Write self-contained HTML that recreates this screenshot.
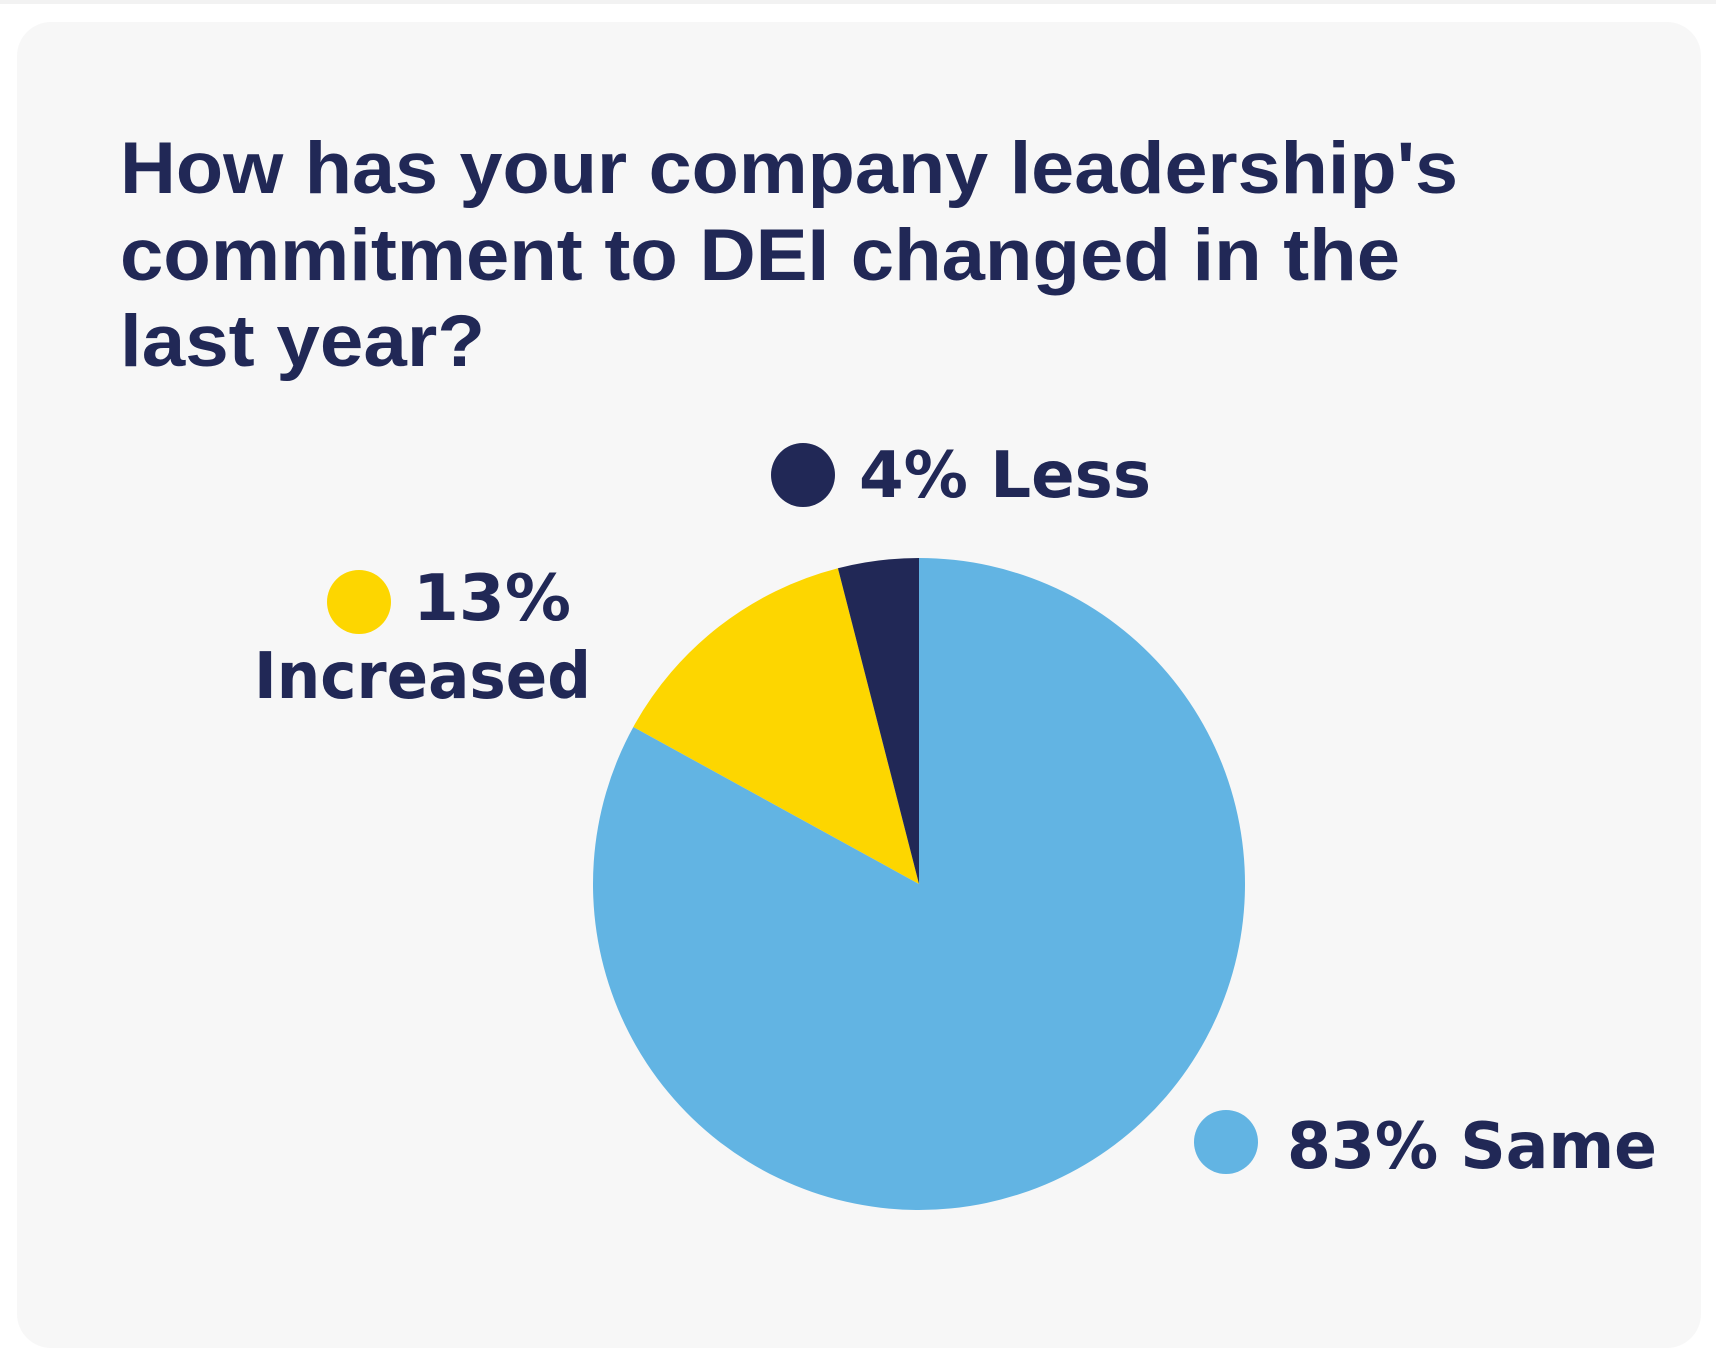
<!DOCTYPE html>
<html><head><meta charset="utf-8"><style>
html,body{margin:0;padding:0;background:#fff;}
svg{display:block;}
</style></head><body>
<svg width="1716" height="1366" viewBox="0 0 1716 1366">
<rect x="0" y="0" width="1716" height="4" fill="#f2f2f2"/>
<rect x="17" y="22" width="1684" height="1326" rx="34" fill="#f7f7f7"/>
<g font-family="'Liberation Sans', sans-serif" font-weight="bold" font-size="73" fill="#212856">
<text x="120" y="193" textLength="1338" lengthAdjust="spacingAndGlyphs">How has your company leadership's</text>
<text x="120" y="280" textLength="1280" lengthAdjust="spacingAndGlyphs">commitment to DEI changed in the</text>
<text x="120" y="366" textLength="365" lengthAdjust="spacingAndGlyphs">last year?</text>
</g>
<g id="pie"></g>
<g font-family="'DejaVu Sans', sans-serif" font-weight="bold" font-size="64" fill="#212856">
<circle cx="803" cy="475" r="32" fill="#212856"/>
<text x="859" y="497" textLength="292" lengthAdjust="spacingAndGlyphs">4% Less</text>
<circle cx="359" cy="602" r="32" fill="#fdd600"/>
<text x="413" y="620" textLength="158" lengthAdjust="spacingAndGlyphs">13%</text>
<text x="254" y="698" textLength="337" lengthAdjust="spacingAndGlyphs">Increased</text>
<circle cx="1226" cy="1142" r="32" fill="#62b4e3"/>
<text x="1287" y="1168" textLength="370" lengthAdjust="spacingAndGlyphs">83% Same</text>
</g>
</svg>
<script>
const categories = ["Same", "Increased", "Less"];
const values = [83, 13, 4];
const colors = ["#62b4e3", "#fdd600", "#212856"];
const cx = 919, cy = 884, r = 326;
const total = values.reduce((a, b) => a + b, 0);
const g = document.getElementById('pie');
function pt(frac) { const a = frac * 2 * Math.PI; return [cx + r * Math.sin(a), cy - r * Math.cos(a)]; }
let acc = 0;
values.forEach((v, i) => {
  const f0 = acc / total, f1 = (acc + v) / total; acc += v;
  const [x0, y0] = pt(f0), [x1, y1] = pt(f1);
  const large = (f1 - f0) > 0.5 ? 1 : 0;
  const p = document.createElementNS('http://www.w3.org/2000/svg', 'path');
  p.setAttribute('d', `M${cx},${cy} L${x0},${y0} A${r},${r} 0 ${large} 1 ${x1},${y1} Z`);
  p.setAttribute('fill', colors[i]);
  
  
  g.appendChild(p);
});
</script>
</body></html>
